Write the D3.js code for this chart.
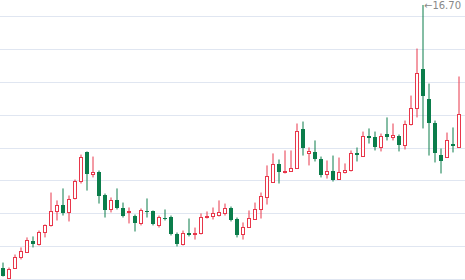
<!DOCTYPE html>
<html>
<head>
<meta charset="utf-8">
<script src="https://cdn.jsdelivr.net/npm/d3@7"></script>
<style>
  body { margin: 0; background: #fff; }
  svg { display: block; }
</style>
</head>
<body>
<script>
// candle values (one entry per period)
var opens = [0.73, 0.12, 0.67, 1.34, 1.70, 2.37, 2.13, 2.86, 3.29, 4.14,
             4.56, 4.08, 4.93, 6.02, 7.73, 6.39, 6.57, 5.17, 4.26, 4.81,
             4.32, 4.08, 3.89, 3.41, 4.14, 4.14, 3.29, 3.77, 3.83, 2.74,
             2.13, 2.80, 2.74, 2.80, 3.83, 3.89, 3.95, 4.02, 4.38, 3.71,
             2.74, 3.22, 3.71, 4.26, 4.99, 5.96, 7.00, 6.51, 6.63, 6.81,
             9.13, 7.67, 7.73, 7.36, 6.39, 6.63, 6.14, 6.51, 6.69, 7.67,
             7.54, 8.76, 8.64, 8.09, 8.88, 8.64, 8.76, 8.21, 9.43, 10.46,
             12.78, 11.01, 9.55, 7.60, 7.48, 8.27, 8.09];

var closes = [0.24, 0.61, 1.34, 1.76, 2.43, 2.13, 2.86, 3.29, 4.14, 4.56,
              4.02, 4.87, 6.02, 7.48, 6.39, 6.57, 5.05, 4.20, 4.81, 4.32,
              3.89, 4.14, 3.41, 4.20, 4.08, 3.35, 3.83, 3.71, 2.74, 2.13,
              2.80, 2.68, 2.80, 3.83, 3.89, 4.02, 4.08, 4.32, 3.65, 2.68,
              3.22, 3.77, 4.26, 5.05, 6.27, 7.00, 6.51, 6.63, 6.81, 9.06,
              8.03, 7.79, 7.36, 6.33, 6.63, 6.08, 6.57, 6.69, 7.67, 7.60,
              8.76, 8.58, 8.09, 8.76, 8.64, 8.82, 8.21, 9.43, 10.46, 12.59,
              11.19, 9.55, 7.67, 7.18, 8.46, 8.15, 10.04];

var highs = [1.03, 0.73, 1.52, 1.95, 2.56, 2.62, 2.98, 3.35, 5.29, 4.81,
             5.54, 5.11, 6.08, 7.60, 7.79, 7.48, 6.63, 5.23, 4.99, 5.54,
             4.68, 4.38, 3.95, 4.32, 4.93, 4.20, 3.89, 4.26, 3.89, 2.86,
             2.98, 3.71, 3.16, 4.02, 4.14, 4.38, 4.81, 4.62, 4.44, 3.77,
             3.47, 4.20, 4.68, 5.29, 6.94, 7.67, 7.30, 7.85, 7.85, 9.49,
             9.61, 8.03, 8.46, 7.48, 7.24, 7.54, 7.42, 7.06, 7.85, 8.03,
             9.00, 9.19, 9.00, 8.88, 9.86, 9.49, 8.82, 9.67, 11.19, 14.05,
             16.70, 11.92, 9.67, 7.97, 8.94, 9.25, 12.35];

var lows = [0.18, 0.12, 0.67, 1.22, 1.64, 1.95, 2.07, 2.56, 3.22, 3.59,
            3.89, 3.53, 4.87, 5.84, 5.41, 6.21, 4.62, 3.77, 4.08, 4.26,
            3.77, 3.41, 2.92, 3.29, 3.77, 3.29, 3.16, 3.59, 2.68, 2.01,
            2.07, 2.62, 2.43, 2.74, 3.71, 3.65, 3.83, 3.89, 3.53, 2.56,
            2.43, 3.16, 3.65, 3.71, 4.56, 5.90, 5.84, 6.45, 6.57, 6.75,
            7.54, 6.94, 7.18, 6.21, 6.14, 5.96, 6.08, 6.45, 6.57, 7.18,
            7.48, 8.27, 7.85, 7.79, 8.46, 8.46, 7.79, 7.91, 9.37, 9.86,
            9.19, 7.54, 7.12, 6.45, 7.42, 7.73, 8.03];

// horizontal grid lines (no labels shown)
var gridValues = [0, 2, 4, 6, 8, 10, 12, 14, 16];

window.onload = function() {
	drawCandles();
};

function drawCandles() {
	// size variables
	var w = 465,
	    h = 280,
	    bodyWidth = 4;

	var upColor = "#e8364a",
	    downColor = "#0b7d4b";

	var candles = d3.range(opens.length).map(function(i) {
		return {i: i, o: opens[i], c: closes[i], h: highs[i], l: lows[i]};
	});

	// scales
	var xScale = d3.scaleBand()
	               .domain(candles.map(function(d) { return d.i; }))
	               .range([0, 462]);

	var yScale = d3.scaleLinear()
	               .domain([0, 16])
	               .range([279.5, 16.5]);

	var cx = function(d) { return xScale(d.i) + xScale.bandwidth() / 2; };

	var svg = d3.select("body")
	            .append("svg")
	             .attr("width", w)
	             .attr("height", h);

	// grid lines
	svg.selectAll(".grid")
	   .data(gridValues)
	   .enter()
	   .append("line")
	   .attr("class", "grid")
	   .attr("x1", 0)
	   .attr("x2", w)
	   .attr("y1", function(d) { return Math.floor(yScale(d)) + 0.5; })
	   .attr("y2", function(d) { return Math.floor(yScale(d)) + 0.5; })
	   .attr("stroke", "#e0e6f1")
	   .attr("stroke-width", 1);

	var g = svg.selectAll(".candle")
	           .data(candles)
	           .enter()
	           .append("g")
	           .attr("class", "candle");

	// wicks
	g.append("line")
	 .attr("x1", cx)
	 .attr("x2", cx)
	 .attr("y1", function(d) { return yScale(d.h); })
	 .attr("y2", function(d) { return yScale(d.l); })
	 .attr("stroke", function(d) { return d.c >= d.o ? upColor : downColor; })
	 .attr("stroke-width", 1);

	// bodies: hollow red for up, filled green for down
	g.append("rect")
	 .attr("x", function(d) {
	 	return d.c >= d.o ? cx(d) - bodyWidth / 2 + 0.5 : cx(d) - bodyWidth / 2;
	 })
	 .attr("y", function(d) {
	 	var top = Math.round(yScale(Math.max(d.o, d.c)));
	 	return d.c >= d.o ? top + 0.5 : top;
	 })
	 .attr("width", function(d) { return d.c >= d.o ? bodyWidth - 1 : bodyWidth; })
	 .attr("height", function(d) {
	 	var top = Math.round(yScale(Math.max(d.o, d.c))),
	 	    bottom = Math.round(yScale(Math.min(d.o, d.c)));
	 	return Math.max(1, bottom - top);
	 })
	 .attr("fill", function(d) { return d.c >= d.o ? "#fff" : downColor; })
	 .attr("stroke", function(d) { return d.c >= d.o ? upColor : "none"; })
	 .attr("stroke-width", 1);

	// highest price marker
	var top = candles.reduce(function(a, b) { return b.h > a.h ? b : a; });
	svg.append("text")
	   .attr("x", cx(top) + 1)
	   .attr("y", yScale(top.h) + 4)
	   .attr("font-family", "DejaVu Sans, sans-serif")
	   .attr("font-size", "10px")
	   .attr("fill", "#888")
	   .text("\u2190" + top.h.toFixed(2));
}
</script>
</body>
</html>
